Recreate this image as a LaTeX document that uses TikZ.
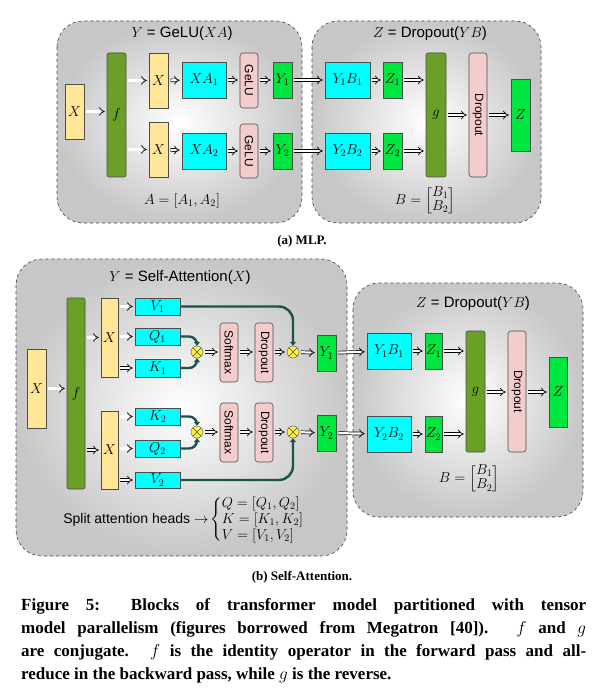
\documentclass[tikz,border=0pt]{standalone}
\usepackage{amsmath}
\usepackage{fontspec}
\setmainfont{Liberation Serif}
\newfontfamily\lbl{Liberation Sans}
\usetikzlibrary{arrows.meta,shadings}
\definecolor{cyel}{RGB}{255,230,153}
\definecolor{cgrn}{RGB}{106,160,40}
\definecolor{ccya}{RGB}{0,255,255}
\definecolor{cpnk}{RGB}{244,204,204}
\definecolor{clim}{RGB}{0,230,64}
\definecolor{cteal}{RGB}{25,85,70}
\newcommand\bx[7]{\node[#2, minimum width={(#5-#3)*1pt}, minimum height={(#6-#4)*1pt}] (#1) at ({(#3+#5)/2},{(#4+#6)/2}) {#7};}
\newcommand\vbx[7]{\node[#2, rotate=-90, minimum height={(#5-#3)*1pt}, minimum width={(#6-#4)*1pt}] (#1) at ({(#3+#5)/2},{(#4+#6)/2}) {#7};}
\tikzset{
 blk/.style={draw=black!70, line width=0.6pt, inner sep=0pt, font=\fontsize{14}{14}\selectfont},
 yel/.style={blk, fill=cyel},
 grn/.style={blk, fill=cgrn, rounded corners=2pt},
 cya/.style={blk, fill=ccya},
 pnk/.style={blk, fill=cpnk, rounded corners=3pt, font=\lbl\fontsize{12}{12}\selectfont},
 lim/.style={blk, fill=clim},
 panel/.style={draw=black!75, dashed, line width=0.6pt, rounded corners=26pt, inner color=white, outer color=black!22},
 dar/.style={double, double distance=2.2pt, line width=0.7pt, -{Implies}, shorten >=2pt, shorten <=2pt},
 curv/.style={draw=cteal, line width=2.4pt, rounded corners=8pt, -{Triangle[length=4pt,width=6pt]}},
 ot/.style={circle, draw=black!70, fill=yellow!75, minimum size=12pt, inner sep=0pt,
   path picture={\draw[line width=0.6pt] ([shift={(-4.2pt,-4.2pt)}]path picture bounding box.center) -- ([shift={(4.2pt,4.2pt)}]path picture bounding box.center);
   \draw[line width=0.6pt] ([shift={(-4.2pt,4.2pt)}]path picture bounding box.center) -- ([shift={(4.2pt,-4.2pt)}]path picture bounding box.center);}},
 ttl/.style={font=\lbl\fontsize{15}{15}\selectfont},
 eq/.style={font=\lbl\fontsize{14}{14}\selectfont}
}
\begin{document}
\begin{tikzpicture}[x=1pt,y=-1pt]
\useasboundingbox[fill=white] (0,0) rectangle (605,700);
% ===== MLP =====
\path[panel] (57,21) rectangle (302,223);
\path[panel] (312,21) rectangle (541,223);
\node[ttl] (ta) at (182,34) {$Y$ = GeLU($XA$)};
\node[ttl] (tb) at (430,34) {$Z$ = Dropout($YB$)};
\bx{ax}{yel}{65}{84}{84}{139}{$X$}
\bx{af}{grn}{107}{53}{126}{177}{$f$}
\bx{ax1}{yel}{149}{53}{168}{108}{$X$}
\bx{ax2}{yel}{149}{122}{168}{177}{$X$}
\bx{axa1}{cya}{182}{62}{226}{98}{$XA_1$}
\bx{axa2}{cya}{182}{133}{226}{169}{$XA_2$}
\vbx{ag1}{pnk}{240}{53}{258}{108}{GeLU}
\vbx{ag2}{pnk}{240}{124}{258}{178}{GeLU}
\bx{ay1}{lim}{273}{62}{292}{98}{$Y_1$}
\bx{ay2}{lim}{273}{133}{292}{169}{$Y_2$}
\bx{ayb1}{cya}{325}{62}{370}{98}{$Y_1B_1$}
\bx{ayb2}{cya}{325}{133}{370}{169}{$Y_2B_2$}
\bx{az1}{lim}{383}{62}{402}{98}{$Z_1$}
\bx{az2}{lim}{383}{133}{402}{169}{$Z_2$}
\bx{ag}{grn}{426}{53}{446}{177}{$g$}
\vbx{adr}{pnk}{469}{53}{487}{177}{Dropout}
\bx{az}{lim}{511}{79}{530}{151}{$Z$}
\node[eq] (aA) at (182,201) {$A=[A_1,A_2]$};
\node[eq] (aB) at (425,201) {$B=\begin{bmatrix}B_1\\B_2\end{bmatrix}$};
\draw[dar] (ax) -- (af.west |- ax);
\draw[dar] (af.east |- ax1) -- (ax1);
\draw[dar] (af.east |- ax2) -- (ax2);
\foreach \r in {1,2}{
 \draw[dar] (ax\r) -- (axa\r);
 \draw[dar] (axa\r) -- (ag\r.south |- axa\r);
 \draw[dar] (ag\r.north |- axa\r) -- (ay\r);
 \draw[dar] (ay\r) -- (ayb\r);
 \draw[dar] (ayb\r) -- (az\r);
 \draw[dar] (az\r) -- (ag.west |- az\r);
}
\draw[dar] (ag.east |- az) -- (adr.south |- az);
\draw[dar] (adr.north |- az) -- (az);
\node[font=\bfseries\fontsize{13}{13}\selectfont] (capa) at (302,241) {(a) MLP.};
% ===== Self-Attention =====
\path[panel] (16,259) rectangle (347,556);
\path[panel] (353,283) rectangle (583,517);
\node[ttl] (tc) at (180,278) {$Y$ = Self-Attention($X$)};
\node[ttl] (td) at (473,304) {$Z$ = Dropout($YB$)};
\bx{bx}{yel}{27}{349}{46}{428}{$X$}
\bx{bf}{grn}{67}{298}{85}{489}{$f$}
\bx{bx1}{yel}{101}{298}{118}{377}{$X$}
\bx{bx2}{yel}{101}{411}{118}{489}{$X$}
\bx{v1}{cya}{135}{298}{180}{315}{$V_1$}
\bx{q1}{cya}{135}{328}{180}{345}{$Q_1$}
\bx{k1}{cya}{135}{359}{180}{377}{$K_1$}
\bx{k2}{cya}{135}{408}{180}{425}{$K_2$}
\bx{q2}{cya}{135}{440}{180}{457}{$Q_2$}
\bx{v2}{cya}{135}{472}{180}{488}{$V_2$}
\node[ot] (o1) at (197,352) {};
\node[ot] (o2) at (197,432) {};
\vbx{sm1}{pnk}{220}{323}{238}{382}{Softmax}
\vbx{sm2}{pnk}{220}{403}{238}{462}{Softmax}
\vbx{dp1}{pnk}{255}{323}{273}{382}{Dropout}
\vbx{dp2}{pnk}{255}{403}{273}{462}{Dropout}
\node[ot] (m1) at (293,352) {};
\node[ot] (m2) at (293,432) {};
\bx{by1}{lim}{317}{335}{336}{371}{$Y_1$}
\bx{by2}{lim}{317}{415}{336}{451}{$Y_2$}
\bx{byb1}{cya}{367}{333}{411}{369}{$Y_1B_1$}
\bx{byb2}{cya}{367}{416}{411}{452}{$Y_2B_2$}
\bx{bz1}{lim}{425}{333}{442}{369}{$Z_1$}
\bx{bz2}{lim}{425}{416}{442}{452}{$Z_2$}
\bx{bg}{grn}{466}{331}{485}{452}{$g$}
\vbx{bdr}{pnk}{508}{331}{526}{452}{Dropout}
\bx{bz}{lim}{549}{357}{567}{427}{$Z$}
\node[eq] (bB) at (469,479) {$B=\begin{bmatrix}B_1\\B_2\end{bmatrix}$};
\draw[dar] (bx) -- (bf.west |- bx);
\draw[dar] (bf.east |- bx1) -- (bx1);
\draw[dar] (bf.east |- bx2) -- (bx2);
\foreach \n in {v1,q1,k1}{\draw[dar] (bx1.east |- \n) -- (\n);}
\foreach \n in {k2,q2,v2}{\draw[dar] (bx2.east |- \n) -- (\n);}
\draw[curv] (q1.east) -| (o1.north);
\draw[curv] (k1.east) -| (o1.south);
\draw[curv] (k2.east) -| (o2.north);
\draw[curv] (q2.east) -| (o2.south);
\draw[curv, rounded corners=14pt] (v1.east) -| (m1.north);
\draw[curv, rounded corners=14pt] (v2.east) -| (m2.south);
\foreach \r in {1,2}{
 \draw[dar] (o\r) -- (sm\r.south |- o\r);
 \draw[dar] (sm\r.north |- o\r) -- (dp\r.south |- o\r);
 \draw[dar] (dp\r.north |- o\r) -- (m\r);
 \draw[dar] (m\r) -- (by\r);
 \draw[dar] (by\r) -- (byb\r);
 \draw[dar] (byb\r) -- (bz\r);
 \draw[dar] (bz\r) -- (bg.west |- bz\r);
}
\draw[dar] (bg.east |- bz) -- (bdr.south |- bz);
\draw[dar] (bdr.north |- bz) -- (bz);
\node[eq, anchor=east] (split) at (212,520) {Split attention heads $\rightarrow$};
\node[eq, anchor=west, inner sep=0pt] (qkv) at (210,520) {$\left\{\begin{array}{@{}l@{}}Q=[Q_1,Q_2]\\[1pt] K=[K_1,K_2]\\[1pt] V=[V_1,V_2]\end{array}\right.$};
\node[font=\bfseries\fontsize{13}{13}\selectfont] (capb) at (302,577) {(b) Self-Attention.};
% ===== caption =====
\node[anchor=north west, inner sep=0pt, text width=565pt, align=justify, font=\bfseries\fontsize{17}{23}\selectfont] (cap) at (21,598)
{Figure 5: Blocks of transformer model partitioned with tensor\linebreak model parallelism (figures borrowed from Megatron [40]). $f$ and $g$\linebreak are conjugate. $f$ is the identity operator in the forward pass and all-\linebreak reduce in the backward pass, while $g$ is the reverse.};
\end{tikzpicture}
\end{document}
